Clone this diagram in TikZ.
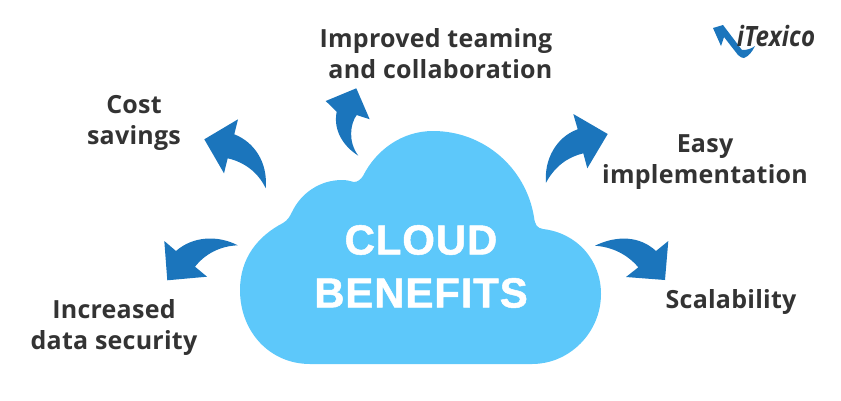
\documentclass[tikz,border=0pt]{standalone}
\usepackage{fontspec}
\setmainfont[LetterSpace=1]{Open Sans}
\newfontfamily\titlefont[LetterSpace=2,FakeBold=1.2]{Liberation Sans Bold}
\definecolor{cloudblue}{RGB}{93,200,250}
\definecolor{arrowblue}{RGB}{27,117,188}
\definecolor{labelgray}{RGB}{51,51,51}
\tikzset{
  benefit/.style={text=labelgray,font=\fontsize{25}{31}\selectfont\bfseries,align=center,inner sep=0pt},
  bend arrow/.style={fill=arrowblue,draw=none},
}
\begin{document}
\begin{tikzpicture}[x=1pt,y=-1pt]
    \useasboundingbox (0,0) rectangle (841,400);
    % cloud
    \fill[cloudblue] (310,364) .. controls (270,364) and (240,332) .. (240,290)
        .. controls (240,258) and (258,236) .. (283,223)
        .. controls (288,220) and (290,216) .. (292,212)
        .. controls (301,193) and (320,180) .. (342,180)
        .. controls (347,180) and (350,181) .. (354,182)
        .. controls (358,182) and (361,179) .. (363,176)
        .. controls (376,150) and (402,131) .. (433,131)
        .. controls (484,131) and (526,168) .. (534,217)
        .. controls (535,225) and (537,228) .. (543,229)
        .. controls (577,233) and (601,260) .. (601,294)
        .. controls (601,332) and (570,364) .. (532,364) -- cycle;
    \node[text=white,font=\fontsize{42}{53}\selectfont\titlefont,align=center,inner sep=0pt] (title) at (421,266.5) {CLOUD\\BENEFITS};
    % arrows
    \fill[bend arrow] (204.3,139.3) -- (238,119.3) -- (234.3,134.3)
        .. controls (254,142) and (268,162) .. (265.7,188.3)
        .. controls (258,172) and (244,162) .. (227.7,158.3) -- (224,173.3) -- cycle;
    \fill[bend arrow] (325.7,101) -- (356.3,88.3) -- (369.7,119.3) -- (356.7,115)
        .. controls (350,124) and (348,142) .. (358.3,155.7)
        .. controls (343,146) and (333,130) .. (336.7,111.7) -- cycle;
    \fill[bend arrow] (164.3,241) -- (167.3,280.3) -- (207,276.7) -- (195,266.7)
        .. controls (205,254) and (220,246) .. (237.7,245.3)
        .. controls (218,235) and (193,236) .. (176,251) -- cycle;
    \fill[bend arrow] (607.7,134) -- (573.3,114) -- (577.7,129.3)
        .. controls (556,137) and (544,160) .. (546,182.7)
        .. controls (555,166) and (568,157) .. (583.3,153.3) -- (587.3,168.3) -- cycle;
    \fill[bend arrow] (668.3,241) -- (665,280) -- (626,277) -- (638.3,267.3)
        .. controls (627,254) and (612,247) .. (595,245.7)
        .. controls (617,235) and (640,236) .. (656,251) -- cycle;
    % labels
    \node[benefit,align=right] (teaming) at (436,54) {Improved teaming\\and collaboration};
    \node[benefit] (cost) at (134,123) {Cost\\savings};
    \node[benefit] (easy) at (705,162) {Easy\\implementation};
    \node[benefit] (scale) at (731,302) {Scalability};
    \node[benefit] (security) at (114,327) {Increased\\data security};
    % logo
    \fill[arrowblue] (713,28) -- (723,25) -- (742,50) .. controls (747,50) and (751,49) .. (755,46)
        .. controls (752,52) and (749,56) .. (744,58) .. controls (742,58) and (740,57) .. (738,55)
        -- (724,37) -- (721,46) -- cycle;
    \node[text=labelgray,font=\fontsize{28}{28}\selectfont\bfseries\itshape,inner sep=0pt,transform shape,xscale=.86] (logo) at (776,36) {iTexico};
\end{tikzpicture}
\end{document}
